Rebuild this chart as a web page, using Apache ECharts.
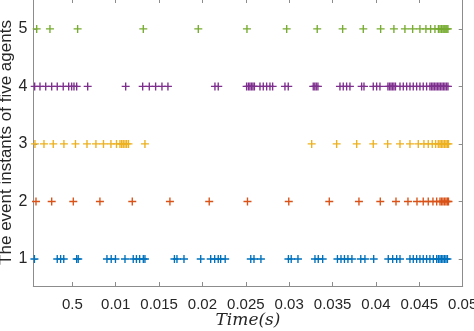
<!DOCTYPE html>
<html>
<head>
<meta charset="utf-8">
<script src="https://cdn.jsdelivr.net/npm/echarts@6/dist/echarts.min.js"></script>
<style>
  html, body { margin: 0; padding: 0; background: #fff; }
  #chart { width: 474px; height: 331px; }
</style>
</head>
<body>
<div id="chart"></div>
<script>
// Event-triggering instants (seconds) of each agent
const agentLevels = [1, 2, 3, 4, 5];
const agentColors = ['#0072BD', '#D95319', '#EDB120', '#7E2F8E', '#77AC30'];

const agent1Times = [0.00063, 0.00326, 0.00365, 0.00401, 0.00550, 0.00568, 0.00899, 0.00948, 0.00997,
  0.01107, 0.01202, 0.01239, 0.01276, 0.01318, 0.01337, 0.01677, 0.01706, 0.01787, 0.01980, 0.02095,
  0.02141, 0.02182, 0.02210, 0.02262, 0.02557, 0.02594, 0.02674, 0.02991, 0.03023, 0.03101, 0.03297,
  0.03335, 0.03386, 0.03556, 0.03597, 0.03637, 0.03677, 0.03723, 0.03825, 0.03873, 0.03974, 0.04142,
  0.04193, 0.04239, 0.04277, 0.04392, 0.04430, 0.04469, 0.04507, 0.04545, 0.04584, 0.04622, 0.04661,
  0.04700, 0.04720, 0.04738, 0.04755, 0.04772, 0.04790, 0.04807, 0.04824];

const agent2Times = [0.00081, 0.00262, 0.00511, 0.00818, 0.01191, 0.01625, 0.02078, 0.02519, 0.02995,
  0.03462, 0.03804, 0.04050, 0.04231, 0.04369, 0.04473, 0.04545, 0.04603, 0.04657, 0.04700, 0.04738,
  0.04755, 0.04772, 0.04790, 0.04807, 0.04824, 0.04836];

const agent3Times = [0.00069, 0.00173, 0.00280, 0.00403, 0.00536, 0.00669, 0.00772, 0.00859, 0.00945,
  0.01009, 0.01049, 0.01069, 0.01087, 0.01107, 0.01126, 0.01147, 0.01337, 0.03259, 0.03547, 0.03778,
  0.03969, 0.04135, 0.04277, 0.04392, 0.04488, 0.04553, 0.04603, 0.04649, 0.04688, 0.04718, 0.04738,
  0.04755, 0.04772, 0.04790, 0.04807, 0.04824, 0.04836];

const agent4Times = [0.00066, 0.00127, 0.00193, 0.00262, 0.00326, 0.00395, 0.00458, 0.00492, 0.00519,
  0.00550, 0.00677, 0.01115, 0.01311, 0.01387, 0.01460, 0.01533, 0.01602, 0.02144, 0.02182, 0.02509,
  0.02530, 0.02547, 0.02565, 0.02582, 0.02599, 0.02663, 0.02701, 0.02740, 0.02778, 0.02809, 0.02951,
  0.02989, 0.03277, 0.03295, 0.03312, 0.03331, 0.03585, 0.03623, 0.03662, 0.03700, 0.03835, 0.03862,
  0.03969, 0.04008, 0.04046, 0.04138, 0.04156, 0.04173, 0.04190, 0.04207, 0.04225, 0.04277, 0.04315,
  0.04354, 0.04392, 0.04430, 0.04469, 0.04507, 0.04545, 0.04584, 0.04622, 0.04640, 0.04657, 0.04674,
  0.04692, 0.04709, 0.04726, 0.04743, 0.04761, 0.04778, 0.04795, 0.04813, 0.04830];

const agent5Times = [0.00089, 0.00242, 0.00561, 0.01318, 0.01952, 0.02513, 0.02971, 0.03323, 0.03616,
  0.03854, 0.04054, 0.04207, 0.04334, 0.04423, 0.04507, 0.04576, 0.04630, 0.04680, 0.04720, 0.04738,
  0.04755, 0.04772, 0.04784, 0.04795, 0.04807, 0.04818, 0.04830];

const agentTimes = [agent1Times, agent2Times, agent3Times, agent4Times, agent5Times];

// Time axis ticks and their printed labels
const xTickValues = [0.005, 0.01, 0.015, 0.02, 0.025, 0.03, 0.035, 0.04, 0.045, 0.05];
const xTickLabels = ['0.5', '0.01', '0.015', '0.02', '0.025', '0.03', '0.035', '0.04', '0.045', '0.05'];
const yTickValues = [1, 2, 3, 4, 5];
const yTickLabels = ['1', '2', '3', '4', '5'];

const X_MIN = 0.0005, X_MAX = 0.05;
const Y_MIN = 0.53, Y_MAX = 5.52;

// Filled plus-sign marker
const plusSymbol = 'path://M-1,-0.17L-0.17,-0.17L-0.17,-1L0.17,-1L0.17,-0.17L1,-0.17L1,0.17L0.17,0.17L0.17,1L-0.17,1L-0.17,0.17L-1,0.17Z';

const axisGray = '#8c8c8c';
const textDark = '#262626';

function labelFor(values, labels) {
  return function (v) {
    for (let i = 0; i < values.length; i++) {
      if (Math.abs(values[i] - v) < 1e-9) return labels[i];
    }
    return '';
  };
}

const chart = echarts.init(document.getElementById('chart'), null, { renderer: 'canvas' });

const series = agentTimes.map((times, i) => ({
  type: 'scatter',
  name: 'Agent ' + agentLevels[i],
  xAxisIndex: 0,
  yAxisIndex: 0,
  symbol: plusSymbol,
  symbolSize: 8,
  itemStyle: { color: agentColors[i], opacity: 1 },
  silent: true,
  data: times.map(t => [t, agentLevels[i]])
}));

chart.setOption({
  animation: false,
  backgroundColor: '#ffffff',
  grid: { left: 33.3, right: 11.3, top: -1, bottom: 45, containLabel: false, outerBoundsMode: 'none' },
  xAxis: [
    {
      type: 'value', position: 'bottom', min: X_MIN, max: X_MAX,
      name: 'Time(s)', nameLocation: 'middle', nameGap: 26, nameMoveOverlap: false,
      nameTextStyle: { fontFamily: 'DejaVu Serif', fontStyle: 'italic', fontSize: 17, color: textDark },
      axisLine: { show: true, lineStyle: { color: axisGray, width: 1 } },
      axisTick: { show: true, inside: true, length: 4, customValues: xTickValues, lineStyle: { color: axisGray } },
      axisLabel: {
        show: true, customValues: xTickValues, margin: 11,
        fontFamily: 'Liberation Sans', fontSize: 15, color: textDark,
        formatter: labelFor(xTickValues, xTickLabels)
      },
      splitLine: { show: false }
    },
    {
      type: 'value', position: 'top', min: X_MIN, max: X_MAX,
      axisLine: { show: true, lineStyle: { color: axisGray, width: 1 } },
      axisTick: { show: true, inside: true, length: 4, customValues: xTickValues, lineStyle: { color: axisGray } },
      axisLabel: { show: false },
      splitLine: { show: false }
    }
  ],
  yAxis: [
    {
      type: 'value', position: 'left', min: Y_MIN, max: Y_MAX,
      name: 'The event instants of five agents', nameLocation: 'middle', nameGap: 18, nameRotate: 90,
      nameMoveOverlap: false,
      nameTextStyle: { fontFamily: 'Liberation Sans', fontSize: 17, color: textDark },
      axisLine: { show: true, lineStyle: { color: axisGray, width: 1 } },
      axisTick: { show: true, inside: true, length: 4, customValues: yTickValues, lineStyle: { color: axisGray } },
      axisLabel: {
        show: true, customValues: yTickValues, margin: 6,
        fontFamily: 'Liberation Sans', fontSize: 16, color: textDark,
        formatter: labelFor(yTickValues, yTickLabels)
      },
      splitLine: { show: false }
    },
    {
      type: 'value', position: 'right', min: Y_MIN, max: Y_MAX,
      axisLine: { show: true, lineStyle: { color: axisGray, width: 1 } },
      axisTick: { show: true, inside: true, length: 4, customValues: yTickValues, lineStyle: { color: axisGray } },
      axisLabel: { show: false },
      splitLine: { show: false }
    }
  ],
  series: series
});
</script>
</body>
</html>
